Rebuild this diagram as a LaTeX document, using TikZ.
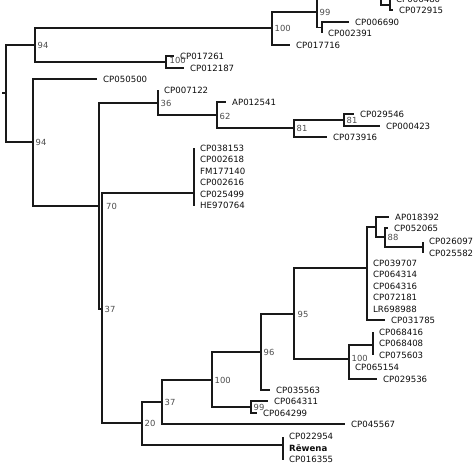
\documentclass[tikz,border=0pt]{standalone}
\usepackage{fontspec}
\setmainfont{DejaVu Sans}

\tikzset{
  branch/.style={line width=1.8pt, black!90},
  taxon/.style={anchor=west, inner xsep=6pt, inner ysep=0pt, text height=6.2pt, text depth=0pt,
    font=\fontsize{8.6}{9}\selectfont, text=black!95},
  support/.style={anchor=west, inner sep=0pt, xshift=2.5pt, text height=6pt, text depth=0pt,
    font=\fontsize{8.4}{9}\selectfont, text=black!70},
}

\begin{document}
\begin{tikzpicture}[x=1pt,y=-1pt]

\useasboundingbox (0,0) rectangle (474,474);
\clip (0,0) rectangle (474,474);

% internal nodes
\coordinate (stub) at (2,93);
\coordinate (root) at (6,93);
\coordinate (n94a) at (35,45);
\coordinate (n100a) at (272,28);
\coordinate (n99a) at (317,12);
\coordinate (ntop) at (381,-4);
\coordinate (hid) at (430,-13);
\coordinate (nd) at (390,5);
\coordinate (nc) at (322,27.5);
\coordinate (n100b) at (166,62);
\coordinate (n94b) at (33,142);
\coordinate (n70) at (99,206);
\coordinate (n36) at (158,103);
\coordinate (n62) at (217,115);
\coordinate (n81a) at (294,128);
\coordinate (n81b) at (344,120);
\coordinate (n37a) at (102,309);
\coordinate (np1) at (194,193);
\coordinate (n20) at (142,423);
\coordinate (n37b) at (162,402);
\coordinate (n100c) at (212,380);
\coordinate (n96) at (261,352);
\coordinate (n95) at (294,314);
\coordinate (ne) at (367,268);
\coordinate (nf) at (376,227);
\coordinate (n88) at (385,237);
\coordinate (ng) at (423,247);
\coordinate (n100d) at (349,359);
\coordinate (nh) at (373,345);
\coordinate (n99b) at (251,407);
\coordinate (np2) at (283,445);

% taxa
\node[taxon] (cp017716) at (290,45) {CP017716};
\node[taxon] (cp006690) at (349,22) {CP006690};
\node[taxon] (cp002391) at (322,33) {CP002391};
\node[taxon] (cp006480) at (390,-1) {CP006480};
\node[taxon] (cp072915) at (393,10) {CP072915};
\node[taxon] (cp017261) at (174,56) {CP017261};
\node[taxon] (cp012187) at (184,68) {CP012187};
\node[taxon] (cp050500) at (97,79) {CP050500};
\node[taxon] (cp007122) at (158,90) {CP007122};
\node[taxon] (ap012541) at (226,102) {AP012541};
\node[taxon] (cp073916) at (327,137) {CP073916};
\node[taxon] (cp029546) at (354,114) {CP029546};
\node[taxon] (cp000423) at (380,126) {CP000423};

\node[taxon] (cp038153) at (194,148) {CP038153};
\node[taxon] (cp002618) at (194,159.5) {CP002618};
\node[taxon] (fm177140) at (194,171) {FM177140};
\node[taxon] (cp002616) at (194,182.5) {CP002616};
\node[taxon] (cp025499) at (194,194) {CP025499};
\node[taxon] (he970764) at (194,205.5) {HE970764};

\node[taxon] (ap018392) at (389,217) {AP018392};
\node[taxon] (cp052065) at (388,228) {CP052065};
\node[taxon] (cp026097) at (423,241.5) {CP026097};
\node[taxon] (cp025582) at (423,253) {CP025582};
\node[taxon] (cp039707) at (367,263) {CP039707};
\node[taxon] (cp064314) at (367,274.5) {CP064314};
\node[taxon] (cp064316) at (367,286) {CP064316};
\node[taxon] (cp072181) at (367,297.5) {CP072181};
\node[taxon] (lr698988) at (367,309) {LR698988};
\node[taxon] (cp031785) at (385,320) {CP031785};
\node[taxon] (cp068416) at (373,332) {CP068416};
\node[taxon] (cp068408) at (373,343.5) {CP068408};
\node[taxon] (cp075603) at (373,355) {CP075603};
\node[taxon] (cp065154) at (349,367) {CP065154};
\node[taxon] (cp029536) at (377,379) {CP029536};
\node[taxon] (cp035563) at (270,390) {CP035563};
\node[taxon] (cp064311) at (268,401) {CP064311};
\node[taxon] (cp064299) at (257,413) {CP064299};
\node[taxon] (cp045567) at (345,424) {CP045567};
\node[taxon] (cp022954) at (283,436.5) {CP022954};
\node[taxon] (rewena) at (283,448) {\bfseries Rēwena};
\node[taxon] (cp016355) at (283,459.5) {CP016355};

% branches
\draw[branch] (stub) -- (root);
\draw[branch] (root) |- (n94a) (root) |- (n94b);

\draw[branch] (n94a) |- (n100a) (n94a) |- (n100b);
\draw[branch] (n100a) |- (n99a) (n100a) |- (cp017716.west);
\draw[branch] (n99a) |- (ntop) (n99a) |- (nc);
\draw[branch] (ntop) |- (hid) (ntop) |- (nd);
\draw[branch] (nd) |- (cp006480.west) (nd) |- (cp072915.west);
\draw[branch] (nc) |- (cp006690.west) (nc) |- (cp002391.west);
\draw[branch] (n100b) |- (cp017261.west) (n100b) |- (cp012187.west);

\draw[branch] (n94b) |- (cp050500.west) (n94b) |- (n70);
\draw[branch] (n70) |- (n36) (n70) |- (n37a);
\draw[branch] (n36) |- (cp007122.west) (n36) |- (n62);
\draw[branch] (n62) |- (ap012541.west) (n62) |- (n81a);
\draw[branch] (n81a) |- (n81b) (n81a) |- (cp073916.west);
\draw[branch] (n81b) |- (cp029546.west) (n81b) |- (cp000423.west);

\draw[branch] (n37a) |- (np1) (n37a) |- (n20);
\draw[branch] (np1) |- (cp038153.west) (np1) |- (he970764.west);

\draw[branch] (n20) |- (n37b) (n20) |- (np2);
\draw[branch] (np2) |- (cp022954.west) (np2) |- (cp016355.west);
\draw[branch] (n37b) |- (n100c) (n37b) |- (cp045567.west);
\draw[branch] (n100c) |- (n96) (n100c) |- (n99b);
\draw[branch] (n99b) |- (cp064311.west) (n99b) |- (cp064299.west);
\draw[branch] (n96) |- (n95) (n96) |- (cp035563.west);
\draw[branch] (n95) |- (ne) (n95) |- (n100d);
\draw[branch] (ne) |- (nf) (ne) |- (cp031785.west);
\draw[branch] (nf) |- (ap018392.west) (nf) |- (n88);
\draw[branch] (n88) |- (cp052065.west) (n88) |- (ng);
\draw[branch] (ng) |- (cp026097.west) (ng) |- (cp025582.west);
\draw[branch] (n100d) |- (nh) (n100d) |- (cp029536.west);
\draw[branch] (nh) |- (cp068416.west) (nh) |- (cp075603.west);

% support values
\node[support] (s94a) at (n94a) {94};
\node[support] (s100a) at (n100a) {100};
\node[support] (s99a) at (n99a) {99};
\node[support, xshift=1pt, yshift=1.2pt] (s100b) at (n100b) {100};
\node[support] (s94b) at (n94b) {94};
\node[support, xshift=4.5pt] (s70) at (n70) {70};
\node[support] (s36) at (n36) {36};
\node[support, yshift=-1pt] (s62) at (n62) {62};
\node[support] (s81a) at (n81a) {81};
\node[support] (s81b) at (n81b) {81};
\node[support] (s37a) at (n37a) {37};
\node[support] (s20) at (n20) {20};
\node[support] (s37b) at (n37b) {37};
\node[support] (s100c) at (n100c) {100};
\node[support] (s96) at (n96) {96};
\node[support, xshift=1pt] (s95) at (n95) {95};
\node[support] (s88) at (n88) {88};
\node[support, yshift=1pt] (s100d) at (n100d) {100};
\node[support] (s99b) at (n99b) {99};

\end{tikzpicture}
\end{document}
